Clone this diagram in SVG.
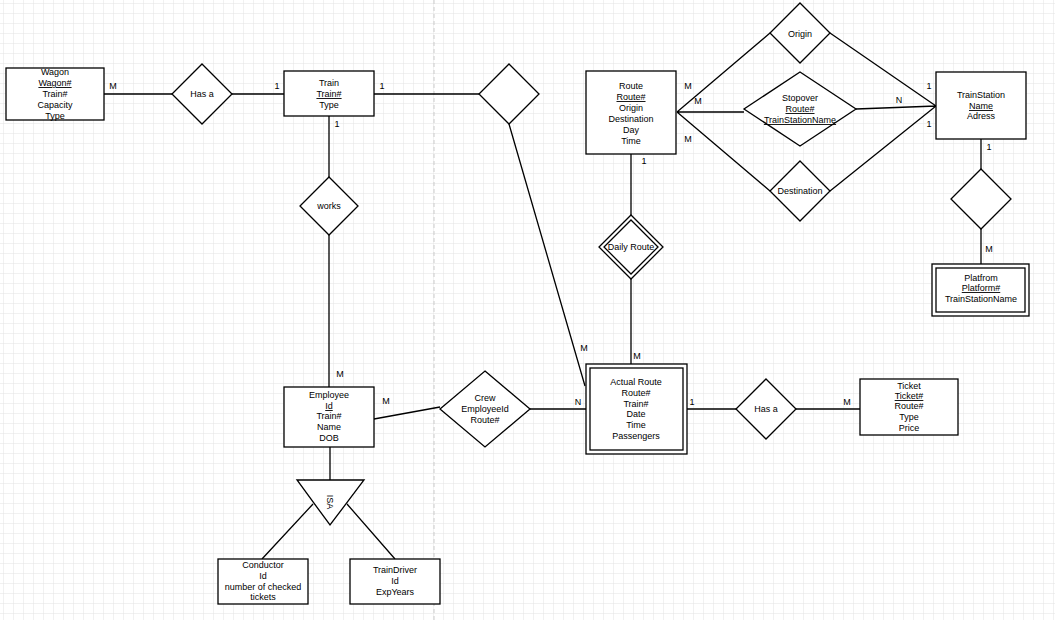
<svg xmlns="http://www.w3.org/2000/svg" width="1055" height="620" viewBox="0 0 1055 620">
<defs>
<pattern id="g" width="10" height="10" patternUnits="userSpaceOnUse" x="4" y="4"><path d="M10 0V10H0" fill="none" stroke="#e3e3e3" stroke-width="1"/></pattern>
<style>
.s{fill:#fff;stroke:#000;stroke-width:1.3}
.l{stroke:#000;stroke-width:1.3;fill:none}
text{font-family:"Liberation Sans",Arial,sans-serif;font-size:9px;fill:#000;text-anchor:middle}
.c{font-size:9px}
.u{text-decoration:underline}
</style>
</defs>
<rect width="1055" height="620" fill="#fff"/>
<rect width="1055" height="620" fill="url(#g)"/>
<line x1="434" y1="0" x2="434" y2="620" stroke="#ccc" stroke-dasharray="4 3"/>
<g id="connectors">
<path class="l" d="M104 94H172M232 94H284M374 94H479M509 124L585 386M329 116V177M329 235V387M374 419L440 407M530 409H586M631 154V215M631 279V364M677 112L770 33M677 112H744M677 112L770 191M830 33L936 106M856 109L936 106M830 191L936 106M981 139V169M981 229V264M687 409H736M796 409H860M330 447V480M313 504L262 559M347 504L395 559"/>
<text x="113" y="89">M</text><text x="277" y="89">1</text><text x="382" y="89">1</text><text x="337" y="127">1</text>
<text x="340" y="377">M</text><text x="386" y="404">M</text><text x="578" y="405">N</text><text x="584" y="351">M</text><text x="637" y="359">M</text><text x="644" y="164">1</text>
<text x="688" y="89">M</text><text x="698" y="104">M</text><text x="688" y="142">M</text><text x="899" y="103">N</text><text x="929" y="89">1</text><text x="929" y="127">1</text><text x="989" y="150">1</text><text x="989" y="252">M</text><text x="692" y="405">1</text><text x="847" y="405">M</text>
</g>
<g id="wagon"><rect class="s" x="6" y="68" width="98" height="52"/><text x="55" y="75">Wagon</text><text x="55" y="86" class="u">Wagon#</text><text x="55" y="97">Train#</text><text x="55" y="108">Capacity</text><text x="55" y="119">Type</text></g>
<g id="hasa1"><path class="s" d="M202 64L232 94L202 124L172 94Z"/><text x="202" y="97">Has a</text></g>
<g id="train"><rect class="s" x="284" y="71" width="90" height="45"/><text x="329" y="86">Train</text><text x="329" y="97" class="u">Train#</text><text x="329" y="108">Type</text></g>
<g id="rel"><path class="s" d="M509 64L539 94L509 124L479 94Z"/></g>
<g id="route"><rect class="s" x="586" y="71" width="90" height="83"/><text x="631" y="89">Route</text><text x="631" y="100" class="u">Route#</text><text x="631" y="111">Origin</text><text x="631" y="122">Destination</text><text x="631" y="133">Day</text><text x="631" y="144">Time</text></g>
<g id="origin"><path class="s" d="M800 3L830 33L800 63L770 33Z"/><text x="800" y="37">Origin</text></g>
<g id="stopover"><path class="s" d="M800 72L856 109L800 146L744 109Z"/><text x="800" y="101">Stopover</text><text x="800" y="112" class="u">Route#</text><text x="800" y="123" class="u">TrainStationName</text></g>
<g id="destination"><path class="s" d="M800 161L830 191L800 221L770 191Z"/><text x="800" y="194">Destination</text></g>
<g id="trainstation"><rect class="s" x="936" y="72" width="90" height="67"/><text x="981" y="98">TrainStation</text><text x="981" y="109" class="u">Name</text><text x="981" y="119">Adress</text></g>
<g id="rel2"><path class="s" d="M981 169L1011 199L981 229L951 199Z"/></g>
<g id="platform"><rect class="s" x="932" y="264" width="97" height="52"/><rect class="s" x="936" y="268" width="89" height="44"/><text x="981" y="281">Platfrom</text><text x="981" y="291" class="u">Platform#</text><text x="981" y="302">TrainStationName</text></g>
<g id="works"><path class="s" d="M329 177L358 206L329 235L300 206Z"/><text x="329" y="209">works</text></g>
<g id="dailyroute"><path class="s" d="M631 215L663 247L631 279L599 247Z"/><path class="s" d="M631 220L658 247L631 274L604 247Z"/><text x="631" y="250">Daily Route</text></g>
<g id="employee"><rect class="s" x="284" y="387" width="90" height="60"/><text x="329" y="398">Employee</text><text x="329" y="409" class="u">Id</text><text x="329" y="419">Train#</text><text x="329" y="430">Name</text><text x="329" y="441">DOB</text></g>
<g id="crew"><path class="s" d="M485 371L530 409L485 447L440 409Z"/><text x="485" y="401">Crew</text><text x="485" y="412">EmployeeId</text><text x="485" y="423">Route#</text></g>
<g id="actualroute"><rect class="s" x="586" y="364" width="101" height="90"/><rect class="s" x="590" y="368" width="93" height="82"/><text x="636" y="385">Actual Route</text><text x="636" y="396">Route#</text><text x="636" y="407">Train#</text><text x="636" y="417">Date</text><text x="636" y="428">Time</text><text x="636" y="439">Passengers</text></g>
<g id="hasa2"><path class="s" d="M766 379L796 409L766 439L736 409Z"/><text x="766" y="412">Has a</text></g>
<g id="ticket"><rect class="s" x="860" y="379" width="98" height="56"/><text x="909" y="389">Ticket</text><text x="909" y="399" class="u">Ticket#</text><text x="909" y="409">Route#</text><text x="909" y="420">Type</text><text x="909" y="431">Price</text></g>
<g id="isa"><path class="s" d="M297 480H364L330 525Z"/><text x="0" y="0" transform="translate(327 502) rotate(90)">ISA</text></g>
<g id="conductor"><rect class="s" x="218" y="559" width="90" height="45"/><text x="263" y="568">Conductor</text><text x="263" y="579">Id</text><text x="263" y="590">number of checked</text><text x="263" y="600">tickets</text></g>
<g id="traindriver"><rect class="s" x="350" y="559" width="90" height="45"/><text x="395" y="573">TrainDriver</text><text x="395" y="584">Id</text><text x="395" y="595">ExpYears</text></g>
</svg>
